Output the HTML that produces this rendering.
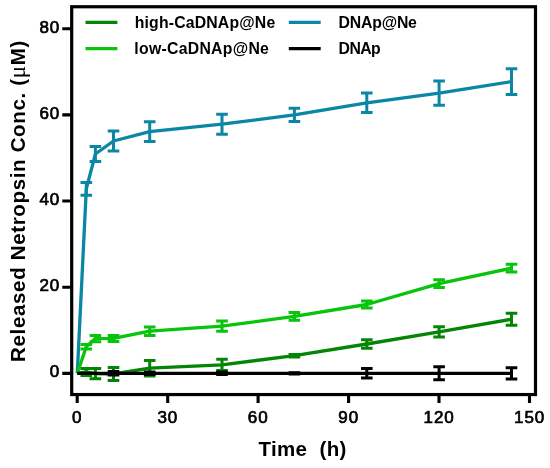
<!DOCTYPE html>
<html lang="en"><head><meta charset="utf-8"><title>Released Netropsin Conc.</title>
<style>html,body{margin:0;padding:0;background:#fff}svg{display:block}text{font-family:"Liberation Sans",Arial,Helvetica,sans-serif;fill:#000}.b{font-weight:bold}.n{font-size:17px;letter-spacing:0.9px;stroke:#000;stroke-width:0.7px}</style>
</head><body>
<svg width="550" height="468" viewBox="0 0 550 468">
<rect width="550" height="468" fill="#fff"/>
<g stroke="#0b86a4" stroke-width="3.3" fill="none" stroke-linejoin="round">
<polyline points="77.3,373.3 86.3,188.9 95.4,154.0 113.5,141.0 149.7,131.6 222.0,124.2 294.4,114.9 366.8,102.9 439.1,93.2 511.5,81.6"/>
<path stroke-width="3.0" d="M86.3,182.4V195.3M80.5,182.4H92.1M80.5,195.3H92.1M95.4,146.4V161.5M89.6,146.4H101.2M89.6,161.5H101.2M113.5,131.1V151.0M107.7,131.1H119.3M107.7,151.0H119.3M149.7,121.7V141.5M143.9,121.7H155.5M143.9,141.5H155.5M222.0,114.3V134.2M216.2,114.3H227.8M216.2,134.2H227.8M294.4,108.2V121.6M288.6,108.2H300.2M288.6,121.6H300.2M366.8,93.1V112.6M361.0,93.1H372.6M361.0,112.6H372.6M439.1,81.1V105.3M433.3,81.1H444.9M433.3,105.3H444.9M511.5,68.7V94.5M505.7,68.7H517.3M505.7,94.5H517.3"/>
</g>
<g stroke="#08c40c" stroke-width="3.3" fill="none" stroke-linejoin="round">
<polyline points="77.3,373.3 86.3,346.8 95.4,338.6 113.5,338.4 149.7,331.2 222.0,326.1 294.4,316.4 366.8,304.5 439.1,283.7 511.5,268.2"/>
<path stroke-width="3.0" d="M86.3,344.6V349.0M80.5,344.6H92.1M80.5,349.0H92.1M95.4,335.5V341.8M89.6,335.5H101.2M89.6,341.8H101.2M113.5,335.4V341.4M107.7,335.4H119.3M107.7,341.4H119.3M149.7,326.9V335.5M143.9,326.9H155.5M143.9,335.5H155.5M222.0,320.9V331.3M216.2,320.9H227.8M216.2,331.3H227.8M294.4,312.5V320.3M288.6,312.5H300.2M288.6,320.3H300.2M366.8,301.0V307.9M361.0,301.0H372.6M361.0,307.9H372.6M439.1,279.8V287.6M433.3,279.8H444.9M433.3,287.6H444.9M511.5,264.3V272.0M505.7,264.3H517.3M505.7,272.0H517.3"/>
</g>
<g stroke="#058505" stroke-width="3.3" fill="none" stroke-linejoin="round">
<polyline points="77.3,373.3 86.3,372.0 95.4,373.6 113.5,374.0 149.7,368.1 222.0,364.8 294.4,355.7 366.8,344.0 439.1,331.9 511.5,319.2"/>
<path stroke-width="3.0" d="M86.3,368.4V375.6M80.5,368.4H92.1M80.5,375.6H92.1M95.4,368.4V378.8M89.6,368.4H101.2M89.6,378.8H101.2M113.5,367.5V380.5M107.7,367.5H119.3M107.7,380.5H119.3M149.7,360.4V375.9M143.9,360.4H155.5M143.9,375.9H155.5M222.0,359.2V370.4M216.2,359.2H227.8M216.2,370.4H227.8M294.4,354.4V357.0M288.6,354.4H300.2M288.6,357.0H300.2M366.8,339.7V348.3M361.0,339.7H372.6M361.0,348.3H372.6M439.1,326.8V337.1M433.3,326.8H444.9M433.3,337.1H444.9M511.5,313.2V325.3M505.7,313.2H517.3M505.7,325.3H517.3"/>
</g>
<g stroke="#000000" stroke-width="3.3" fill="none" stroke-linejoin="round">
<polyline points="77.3,373.3 86.3,373.3 95.4,373.3 113.5,373.3 149.7,373.3 222.0,373.3 294.4,373.3 366.8,373.3 439.1,373.3 511.5,373.3"/>
<path stroke-width="3.0" d="M113.5,371.6V375.0M107.7,371.6H119.3M107.7,375.0H119.3M149.7,372.0V374.6M143.9,372.0H155.5M143.9,374.6H155.5M222.0,372.0V374.6M216.2,372.0H227.8M216.2,374.6H227.8M294.4,372.7V373.9M288.6,372.7H300.2M288.6,373.9H300.2M366.8,368.6V378.0M361.0,368.6H372.6M361.0,378.0H372.6M439.1,366.8V379.8M433.3,366.8H444.9M433.3,379.8H444.9M511.5,367.7V378.9M505.7,367.7H517.3M505.7,378.9H517.3"/>
</g>
<rect x="71.7" y="6.75" width="463.8" height="387.8" fill="none" stroke="#000" stroke-width="3.2"/>
<path d="M62.3,373.4H71M62.3,287.2H71M62.3,201.0H71M62.3,114.9H71M62.3,28.7H71M77.2,394.4V402.9M167.7,394.4V402.9M258.1,394.4V402.9M348.6,394.4V402.9M439.0,394.4V402.9M529.5,394.4V402.9" stroke="#000" stroke-width="3.1" fill="none"/>
<text x="60.2" y="377.2" class="n" text-anchor="end">0</text>
<text x="60.2" y="291.0" class="n" text-anchor="end">20</text>
<text x="60.2" y="204.8" class="n" text-anchor="end">40</text>
<text x="60.2" y="118.7" class="n" text-anchor="end">60</text>
<text x="60.2" y="32.5" class="n" text-anchor="end">80</text>
<text x="77.3" y="422.8" class="n" text-anchor="middle">0</text>
<text x="167.8" y="422.8" class="n" text-anchor="middle">30</text>
<text x="258.2" y="422.8" class="n" text-anchor="middle">60</text>
<text x="348.7" y="422.8" class="n" text-anchor="middle">90</text>
<text x="439.1" y="422.8" class="n" text-anchor="middle">120</text>
<text x="529.6" y="422.8" class="n" text-anchor="middle">150</text>
<text class="b" x="258.4" y="455.6" font-size="20.5" textLength="88" lengthAdjust="spacing" xml:space="preserve" style="white-space:pre">Time  (h)</text>
<text class="b" transform="translate(24.8,362) rotate(-90)" font-size="20.5" letter-spacing="0.66" word-spacing="0">Released Netropsin Conc. (<tspan font-family="'Liberation Serif','DejaVu Serif',serif" font-weight="normal" font-size="23">μ</tspan>M)</text>
<line x1="85.5" y1="22.3" x2="117.4" y2="22.3" stroke="#058505" stroke-width="3.2"/>
<text class="b" x="134.7" y="27.6" font-size="15.8" textLength="140.5" lengthAdjust="spacing">high-CaDNAp@Ne</text>
<line x1="85.5" y1="48.6" x2="117.4" y2="48.6" stroke="#08c40c" stroke-width="3.2"/>
<text class="b" x="134.3" y="53.5" font-size="15.8" textLength="134.6" lengthAdjust="spacing">low-CaDNAp@Ne</text>
<line x1="288.8" y1="22.3" x2="320.7" y2="22.3" stroke="#0b86a4" stroke-width="3.2"/>
<text class="b" x="338.6" y="27.6" font-size="15.8" textLength="78.3" lengthAdjust="spacing">DNAp@Ne</text>
<line x1="288.8" y1="48.6" x2="320.7" y2="48.6" stroke="#000" stroke-width="3.2"/>
<text class="b" x="338.6" y="53.5" font-size="15.8" textLength="42.0" lengthAdjust="spacing">DNAp</text>
</svg>
</body></html>
